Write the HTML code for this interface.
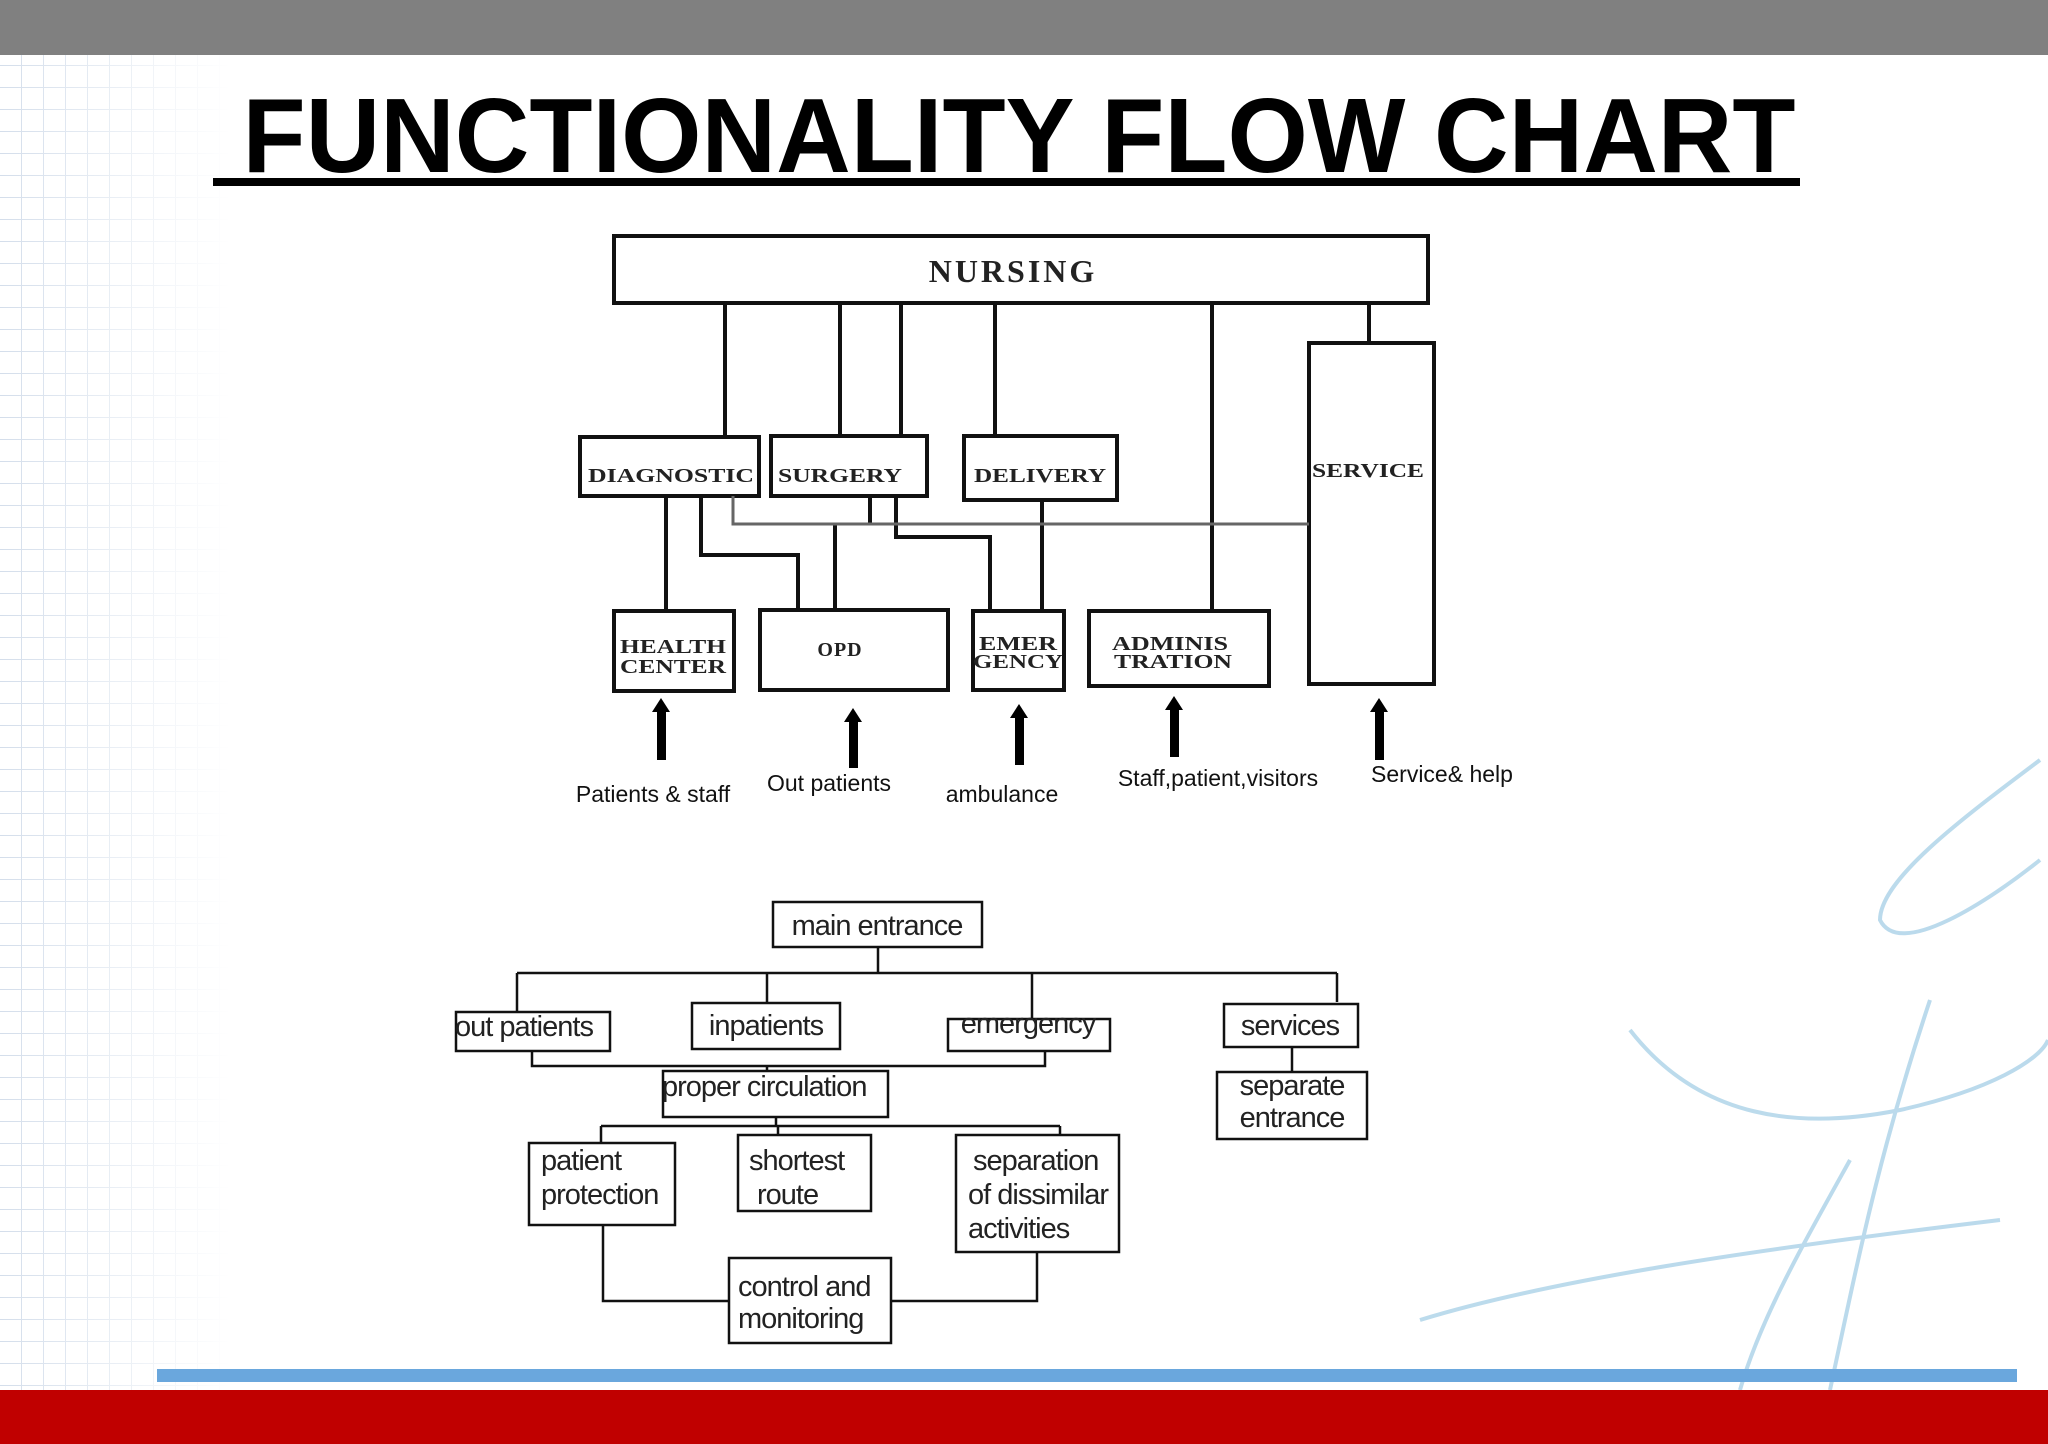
<!DOCTYPE html>
<html><head><meta charset="utf-8"><style>
html,body{margin:0;padding:0;background:#fff;}
svg{display:block;}
</style></head><body>
<svg width="2048" height="1444" viewBox="0 0 2048 1444" xmlns="http://www.w3.org/2000/svg">
<defs>
<pattern id="grid" width="22" height="22" patternUnits="userSpaceOnUse">
<path d="M22 0V22M0 22H22" stroke="#c9d6e6" stroke-width="2" fill="none"/>
</pattern>
<linearGradient id="fade" x1="0" x2="1" y1="0" y2="0">
<stop offset="0" stop-color="#fff" stop-opacity="0"/>
<stop offset="1" stop-color="#fff" stop-opacity="1"/>
</linearGradient>
</defs>
<rect width="2048" height="1444" fill="#fff"/>
<rect x="0" y="55" width="230" height="1335" fill="url(#grid)" opacity="0.8"/>
<rect x="0" y="55" width="230" height="1335" fill="url(#fade)"/>
<g fill="none" stroke="#8fc3e0" stroke-width="4" opacity="0.6">
<path d="M2040 760 C1960 820 1880 880 1880 920 C1900 960 1990 900 2040 860"/>
<path d="M1630 1030 C1700 1120 1800 1130 1900 1110 C1990 1090 2040 1060 2048 1040"/>
<path d="M1930 1000 C1880 1150 1860 1250 1830 1390"/>
<path d="M1420 1320 C1550 1280 1750 1250 2000 1220"/>
<path d="M1850 1160 C1800 1250 1760 1320 1740 1390"/>
</g>
<rect x="0" y="0" width="2048" height="55" fill="#808080"/>
<rect x="157" y="1369" width="1860" height="13" fill="#6aa7dd"/>
<rect x="0" y="1390" width="2048" height="54" fill="#c00000"/>

<text x="1019" y="172" text-anchor="middle" font-family="Liberation Sans, sans-serif" font-weight="bold" font-size="106" fill="#000" textLength="1553" lengthAdjust="spacingAndGlyphs">FUNCTIONALITY FLOW CHART</text>
<rect x="213" y="178" width="1587" height="8" fill="#000"/>

<g stroke="#111" stroke-width="4" fill="#fff">
<rect x="614" y="236" width="814" height="67"/>
<rect x="580" y="437" width="179" height="59"/>
<rect x="771" y="436" width="156" height="60"/>
<rect x="964" y="436" width="153" height="64"/>
<rect x="1309" y="343" width="125" height="341"/>
<rect x="614" y="611" width="120" height="80"/>
<rect x="760" y="610" width="188" height="80"/>
<rect x="973" y="611" width="91" height="79"/>
<rect x="1089" y="611" width="180" height="75"/>
</g>
<g stroke="#111" stroke-width="4" fill="none">
<path d="M725 303V437M840 303V436M901 303V436M995 303V436M1212 303V611M1369 303V343"/>
<path d="M666 496V611"/>
<path d="M701 496V555H798V610"/>
<path d="M870 496V524"/>
<path d="M835 524V610"/>
<path d="M896 496V537H990V611"/>
<path d="M1042 500V611"/>
</g>
<path d="M733 496V524H1309" stroke="#666" stroke-width="3" fill="none"/>
<g fill="#000">
<rect x="657" y="710" width="9" height="50"/><polygon points="652,712 661,698 670,712"/>
<rect x="849" y="720" width="9" height="48"/><polygon points="844,722 853,708 862,722"/>
<rect x="1015" y="716" width="9" height="49"/><polygon points="1010,718 1019,704 1028,718"/>
<rect x="1170" y="708" width="9" height="49"/><polygon points="1165,710 1174,696 1183,710"/>
<rect x="1375" y="710" width="9" height="50"/><polygon points="1370,712 1379,698 1388,712"/>
</g>
<g font-family="Liberation Serif, serif" font-weight="bold" fill="#222" text-anchor="middle">
<text x="1013" y="282" font-size="32" letter-spacing="3">NURSING</text>
<text x="671" y="482" font-size="20" textLength="166" lengthAdjust="spacingAndGlyphs">DIAGNOSTIC</text>
<text x="840" y="482" font-size="20" textLength="124" lengthAdjust="spacingAndGlyphs">SURGERY</text>
<text x="1040" y="482" font-size="20" textLength="132" lengthAdjust="spacingAndGlyphs">DELIVERY</text>
<text x="1368" y="477" font-size="20" textLength="112" lengthAdjust="spacingAndGlyphs">SERVICE</text>
<text x="673" y="653" font-size="20" textLength="106" lengthAdjust="spacingAndGlyphs">HEALTH</text>
<text x="673" y="673" font-size="20" textLength="106" lengthAdjust="spacingAndGlyphs">CENTER</text>
<text x="840" y="656" font-size="20" letter-spacing="1">OPD</text>
<text x="1018" y="650" font-size="20" textLength="78" lengthAdjust="spacingAndGlyphs">EMER</text>
<text x="1018" y="668" font-size="20" textLength="90" lengthAdjust="spacingAndGlyphs">GENCY</text>
<text x="1170" y="650" font-size="20" textLength="116" lengthAdjust="spacingAndGlyphs">ADMINIS</text>
<text x="1173" y="668" font-size="20" textLength="118" lengthAdjust="spacingAndGlyphs">TRATION</text>
</g>
<g font-family="Liberation Sans, sans-serif" font-size="23" fill="#111" text-anchor="middle">
<text x="653" y="802">Patients &amp; staff</text>
<text x="829" y="791">Out patients</text>
<text x="1002" y="802">ambulance</text>
<text x="1218" y="786">Staff,patient,visitors</text>
<text x="1442" y="782">Service&amp; help</text>
</g>

<g stroke="#111" stroke-width="2.5" fill="none">
<path d="M878 947V973M517 973H1337M517 973V1012M767 973V1003M1032 973V1019M1337 973V1002"/>
<path d="M532 1051V1066H1045V1051M767 1066V1071"/>
<path d="M1292 1047V1072"/>
<path d="M776 1117V1126M601 1126H1060M601 1126V1143M778 1126V1135M1060 1126V1135"/>
<path d="M603 1225V1301H729M1037 1252V1301H891"/>
</g>
<g stroke="#111" stroke-width="2.5" fill="#fff">
<rect x="773" y="902" width="209" height="45"/>
<rect x="456" y="1012" width="154" height="39"/>
<rect x="692" y="1003" width="148" height="46"/>
<rect x="948" y="1019" width="162" height="32"/>
<rect x="1224" y="1004" width="134" height="43"/>
<rect x="663" y="1071" width="225" height="46"/>
<rect x="1217" y="1072" width="150" height="67"/>
<rect x="529" y="1143" width="146" height="82"/>
<rect x="738" y="1135" width="133" height="76"/>
<rect x="956" y="1135" width="163" height="117"/>
<rect x="729" y="1258" width="162" height="85"/>
</g>
<g font-family="Liberation Sans, sans-serif" font-size="29" fill="#222" letter-spacing="-1">
<text x="877" y="935" text-anchor="middle">main entrance</text>
<text x="455" y="1036">out patients</text>
<text x="766" y="1035" text-anchor="middle">inpatients</text>
<text x="1028" y="1033" text-anchor="middle">emergency</text>
<text x="1290" y="1035" text-anchor="middle">services</text>
<text x="662" y="1096">proper circulation</text>
<text x="1292" y="1095" text-anchor="middle">separate</text>
<text x="1292" y="1127" text-anchor="middle">entrance</text>
<text x="541" y="1170">patient</text>
<text x="541" y="1204">protection</text>
<text x="749" y="1170">shortest</text>
<text x="757" y="1204">route</text>
<text x="973" y="1170">separation</text>
<text x="968" y="1204">of dissimilar</text>
<text x="968" y="1238">activities</text>
<text x="738" y="1296">control and</text>
<text x="738" y="1328">monitoring</text>
</g>
</svg>
</body></html>
